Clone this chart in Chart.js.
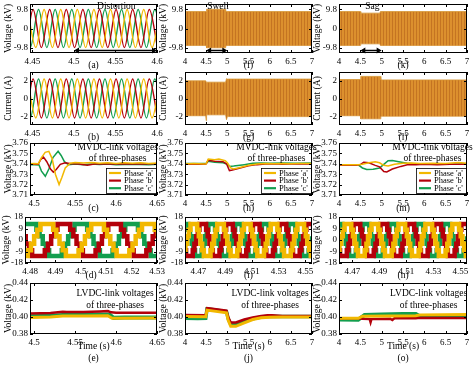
<!DOCTYPE html>
<html>
<head>
<meta charset="utf-8">
<script src="https://cdn.jsdelivr.net/npm/chart.js"></script>
<style>
  body { margin: 0; width: 474px; height: 366px; background: #fff; position: relative; overflow: hidden; }
  canvas { position: absolute; }
</style>
</head>
<body>
<script>
// ---------- data ----------
// (a),(b) times of successive crest / trough of each phase (first one is a crest)
const sineTimesA = [4.444, 4.454, 4.464, 4.474, 4.484, 4.494, 4.504, 4.514, 4.524, 4.534, 4.544, 4.554, 4.564, 4.574, 4.584, 4.594, 4.604];
const sineTimesB = [4.4307, 4.4407, 4.4507, 4.4607, 4.4707, 4.4807, 4.4907, 4.5007, 4.5107, 4.5207, 4.5307, 4.5407, 4.5507, 4.5607, 4.5707, 4.5807, 4.5907, 4.6007];
const sineTimesC = [4.4373, 4.4473, 4.4573, 4.4673, 4.4773, 4.4873, 4.4973, 4.5073, 4.5173, 4.5273, 4.5373, 4.5473, 4.5573, 4.5673, 4.5773, 4.5873, 4.5973, 4.6073];
const voltPeak = 9.8;
const currPeak = 2.2;

// (f),(g),(k),(l) envelopes of the dense waveforms
const swellT = [4, 4.5, 4.51, 4.96, 4.97, 7];
const swellUp = [8.7, 8.7, 9.9, 9.9, 8.7, 8.7];
const swellLo = [-8.7, -8.7, -9.9, -9.9, -8.7, -8.7];
const swellCurT = [4, 4.49, 4.5, 4.51, 4.52, 4.96, 4.98, 5.0, 5.02, 7];
const swellCurUp = [2.0, 2.0, 1.85, 1.85, 1.85, 1.85, 2.25, 2.2, 2.2, 2.2];
const swellCurLo = [-1.95, -1.95, -2.5, -1.85, -1.85, -1.85, -2.4, -2.05, -2.05, -2.05];
const sagT = [4, 4.5, 4.51, 4.96, 4.97, 7];
const sagUp = [8.7, 8.7, 7.9, 7.9, 8.7, 8.7];
const sagLo = [-8.7, -8.7, -7.9, -7.9, -8.7, -8.7];
const sagCurT = [4, 4.5, 4.51, 4.97, 4.98, 7];
const sagCurUp = [2.15, 2.15, 2.5, 2.5, 2.1, 2.1];
const sagCurLo = [-1.95, -1.95, -2.3, -2.3, -2.0, -2.0];

// (c) MVDC-link voltages, distortion case [time, kV]
const mvA1 = [[4.495,3.7400],[4.500,3.7402],[4.505,3.7400],[4.509,3.7460],[4.5135,3.7510],[4.518,3.7520],[4.522,3.7450],[4.526,3.7300],[4.5305,3.7200],[4.534,3.7270],[4.538,3.7360],[4.544,3.7405],[4.55,3.7412],[4.56,3.7408],[4.57,3.7412],[4.58,3.7405],[4.59,3.7410],[4.60,3.7404],[4.61,3.7410],[4.62,3.7406],[4.63,3.7410],[4.64,3.7404],[4.65,3.7408]];
const mvB1 = [[4.495,3.7395],[4.505,3.7395],[4.508,3.7440],[4.5115,3.7465],[4.5155,3.7420],[4.520,3.7350],[4.5235,3.7320],[4.527,3.7345],[4.532,3.7395],[4.538,3.7410],[4.545,3.7400],[4.555,3.7398],[4.565,3.7385],[4.575,3.7400],[4.59,3.7398],[4.61,3.7400],[4.63,3.7398],[4.65,3.7400]];
const mvC1 = [[4.495,3.7390],[4.50,3.7392],[4.506,3.7388],[4.509,3.7330],[4.5137,3.7280],[4.518,3.7350],[4.523,3.7460],[4.5293,3.7520],[4.533,3.7480],[4.537,3.7420],[4.542,3.7392],[4.55,3.7398],[4.56,3.7392],[4.57,3.7398],[4.58,3.7393],[4.59,3.7398],[4.60,3.7392],[4.62,3.7396],[4.64,3.7392],[4.65,3.7395]];
// (h) swell case
const mvA2 = [[4,3.7398],[4.2,3.7402],[4.45,3.7398],[4.5,3.7400],[4.55,3.7445],[4.7,3.7440],[4.8,3.7445],[4.95,3.7430],[5.0,3.7410],[5.08,3.7360],[5.15,3.7350],[5.3,3.7365],[5.5,3.7385],[5.7,3.7398],[5.9,3.7402],[6.1,3.7400],[6.3,3.7404],[6.5,3.7400],[6.7,3.7404],[7,3.7402]];
const mvB2 = [[4,3.7395],[4.45,3.7395],[4.5,3.7400],[4.55,3.7435],[4.7,3.7425],[4.9,3.7420],[4.98,3.7400],[5.05,3.7335],[5.12,3.7340],[5.3,3.7360],[5.5,3.7380],[5.7,3.7392],[5.9,3.7398],[6.1,3.7400],[6.3,3.7395],[6.6,3.7400],[7,3.7398]];
const mvC2 = [[4,3.7402],[4.45,3.7402],[4.5,3.7405],[4.55,3.7425],[4.7,3.7415],[4.9,3.7410],[5.0,3.7395],[5.05,3.7375],[5.15,3.7378],[5.4,3.7392],[5.6,3.7405],[5.8,3.7408],[6.0,3.7405],[6.3,3.7408],[6.6,3.7405],[7,3.7408]];
// (m) sag case
const mvA3 = [[4,3.7390],[4.45,3.7392],[4.55,3.7395],[4.7,3.7410],[4.85,3.7420],[4.95,3.7410],[5.05,3.7385],[5.15,3.7380],[5.3,3.7395],[5.5,3.7405],[5.7,3.7408],[5.9,3.7402],[6.2,3.7405],[6.5,3.7402],[6.8,3.7412],[7,3.7405]];
const mvB3 = [[4,3.7385],[4.4,3.7385],[4.5,3.7392],[4.58,3.7415],[4.7,3.7410],[4.85,3.7385],[4.95,3.7370],[5.05,3.7325],[5.12,3.7322],[5.25,3.7350],[5.45,3.7375],[5.6,3.7390],[5.8,3.7392],[6.0,3.7395],[6.3,3.7392],[6.6,3.7395],[7,3.7395]];
const mvC3 = [[4,3.7392],[4.45,3.7390],[4.55,3.7360],[4.65,3.7345],[4.8,3.7348],[4.95,3.7360],[5.05,3.7395],[5.15,3.7430],[5.25,3.7432],[5.4,3.7420],[5.6,3.7405],[5.8,3.7398],[6.0,3.7395],[6.3,3.7398],[6.6,3.7395],[7,3.7398]];

// (d),(i),(n) one staircase cycle: offsets (s) and levels (kV); cycle start times per phase
const stairT = [0, 0.005, 0.00625, 0.0075, 0.00875, 0.010, 0.015, 0.01625, 0.0175, 0.01875];
const stairV = [12.5, 8, 3, -3, -8, -12.5, -8, -3, 3, 8];
const stairPeriod = 0.02;
const stairStartA = [4.4441, 4.4641, 4.4841, 4.5041, 4.5241, 4.5441];
const stairStartB = [4.4308, 4.4508, 4.4708, 4.4908, 4.5108, 4.5308, 4.5508];
const stairStartC = [4.4375, 4.4575, 4.4775, 4.4975, 4.5175, 4.5375];

// (e),(j),(o) LVDC-link voltages [time, kV]
const lvA1 = [[4.495,0.3995],[4.52,0.4000],[4.535,0.4012],[4.56,0.4012],[4.59,0.4015],[4.595,0.3985],[4.65,0.3988]];
const lvB1 = [[4.495,0.4040],[4.52,0.4048],[4.535,0.4062],[4.54,0.4058],[4.56,0.4058],[4.58,0.4065],[4.59,0.4070],[4.594,0.4055],[4.60,0.4050],[4.65,0.4050]];
const lvC1 = [[4.495,0.4010],[4.52,0.4015],[4.535,0.4025],[4.56,0.4025],[4.58,0.4030],[4.592,0.4030],[4.597,0.3990],[4.61,0.3995],[4.65,0.3995]];
const lvA2 = [[4,0.4005],[4.49,0.4003],[4.52,0.4080],[4.6,0.4075],[4.98,0.4050],[5.02,0.3960],[5.08,0.3890],[5.2,0.3890],[5.4,0.3930],[5.6,0.3970],[5.8,0.3990],[6.0,0.3998],[6.3,0.4000],[7,0.4000]];
const lvB2 = [[4,0.4025],[4.49,0.4022],[4.52,0.4105],[4.6,0.4100],[4.98,0.4075],[5.02,0.4000],[5.08,0.3935],[5.2,0.3935],[5.4,0.3970],[5.6,0.3995],[5.8,0.4012],[5.95,0.4022],[6.05,0.4020],[6.3,0.4012],[7,0.4012]];
const lvC2 = [[4,0.3985],[4.3,0.3983],[4.49,0.3985],[4.52,0.4095],[4.6,0.4090],[4.98,0.4065],[5.02,0.3980],[5.08,0.3915],[5.2,0.3915],[5.4,0.3950],[5.6,0.3980],[5.8,0.4000],[6.0,0.4008],[6.3,0.4005],[7,0.4005]];
const lvA3 = [[4,0.3985],[4.45,0.3985],[4.55,0.4010],[5.8,0.4015],[5.9,0.4025],[7,0.4028]];
const lvB3 = [[4,0.3985],[4.45,0.3985],[4.55,0.3980],[4.72,0.3975],[4.74,0.3940],[4.76,0.3975],[5.2,0.3980],[5.25,0.3965],[5.3,0.3985],[5.8,0.3985],[5.9,0.3990],[7,0.3988]];
const lvC3 = [[4,0.3970],[4.45,0.3968],[4.6,0.4025],[5.0,0.4030],[5.5,0.4035],[5.8,0.4035],[5.9,0.4005],[7,0.4005]];

// tick values
const xTicksSine = [4.45, 4.5, 4.55, 4.6];
const xTicksZoom = [4.5, 4.55, 4.6, 4.65];
const xTicksStairD = [4.48, 4.49, 4.5, 4.51, 4.52, 4.53];
const xTicksStair = [4.47, 4.49, 4.51, 4.53, 4.55];
const xTicksLong = [4, 4.5, 5, 5.5, 6, 6.5, 7];
const yTicksVolt = [-9.8, 0, 9.8];
const yTicksCur = [-2, 0, 2];
const yTicksMV = [3.71, 3.72, 3.73, 3.74, 3.75, 3.76];
const yTicksStair = [-18, -9, 0, 9, 18];
const yTicksLV = [0.38, 0.40, 0.42, 0.44];

// ---------- helpers ----------
const YEL = 'rgb(242,184,0)', RED = 'rgb(180,0,10)', GRN = 'rgb(18,158,78)';
const SERIF = '"Liberation Serif", "Times New Roman", serif';
const TICKF = { family: SERIF, size: 9 };
const TITLEF = { family: SERIF, size: 9.5 };

const toXY = arr => arr.map(p => ({ x: p[0], y: p[1] }));
const extrema = (times, peak) => times.map((t, i) => ({ x: t, y: i % 2 ? -peak : peak }));
const band = (ts, ys) => ts.map((t, i) => ({ x: t, y: ys[i] }));
function stairs(starts) {
  const out = [];
  starts.forEach(s => stairT.forEach((dt, k) => out.push({ x: s + dt, y: stairV[k] })));
  out.push({ x: starts[starts.length - 1] + stairPeriod, y: stairV[0] });
  return out;
}

// striped orange fill for the dense waveforms
const pc = document.createElement('canvas');
pc.width = 3; pc.height = 4;
const pctx = pc.getContext('2d');
pctx.fillStyle = 'rgb(220,144,46)'; pctx.fillRect(0, 0, 3, 4);
pctx.fillStyle = 'rgb(196,116,34)'; pctx.fillRect(2, 0, 1, 4);
const stripes = pctx.createPattern(pc, 'repeat');

const line = (label, data, color, width, extra) =>
  Object.assign({ label, data, borderColor: color, backgroundColor: color, borderWidth: width,
    pointRadius: 0, fill: false, clip: 0 }, extra || {});
const sineSet = peak => [
  line("Phase 'a'", extrema(sineTimesA, peak), YEL, 1.4, { cubicInterpolationMode: 'monotone' }),
  line("Phase 'b'", extrema(sineTimesB, peak), RED, 1.4, { cubicInterpolationMode: 'monotone' }),
  line("Phase 'c'", extrema(sineTimesC, peak), GRN, 1.4, { cubicInterpolationMode: 'monotone' })
];
const bandSet = (ts, up, lo) => [
  { data: band(ts, up), fill: '+1', backgroundColor: stripes, borderColor: 'rgb(214,150,50)', borderWidth: 0.8, pointRadius: 0, clip: 0 },
  { data: band(ts, lo), fill: false, borderColor: 'rgb(214,150,50)', borderWidth: 0.8, pointRadius: 0, clip: 0 }
];
const tripleSet = (a, b, c, w) => [
  line("Phase 'a'", toXY(a), YEL, w[0]),
  line("Phase 'b'", toXY(b), RED, w[1]),
  line("Phase 'c'", toXY(c), GRN, w[2])
];
const stairSet = () => [
  line("Phase 'a'", stairs(stairStartA), YEL, 4.5, { stepped: true }),
  line("Phase 'b'", stairs(stairStartB), RED, 4.5, { stepped: true }),
  line("Phase 'c'", stairs(stairStartC), GRN, 4.5, { stepped: true })
];

// frame, inner ticks, notes, arrows and legend
const deco = {
  id: 'deco',
  afterDatasetsDraw(chart, args, o) {
    const { ctx, chartArea: a, scales: { x, y } } = chart;
    ctx.save();
    ctx.strokeStyle = '#000';
    ctx.lineWidth = 1;
    ctx.strokeRect(a.left + 0.5, a.top + 0.5, a.width - 1, a.height - 1);
    ctx.beginPath();
    x.ticks.forEach(t => {
      const p = Math.round(x.getPixelForValue(t.value)) + 0.5;
      ctx.moveTo(p, a.bottom); ctx.lineTo(p, a.bottom - 3);
      ctx.moveTo(p, a.top); ctx.lineTo(p, a.top + 3);
    });
    y.ticks.forEach(t => {
      const p = Math.round(y.getPixelForValue(t.value)) + 0.5;
      ctx.moveTo(a.left, p); ctx.lineTo(a.left + 3, p);
      ctx.moveTo(a.right, p); ctx.lineTo(a.right - 3, p);
    });
    ctx.stroke();

    ctx.fillStyle = '#000';
    ctx.font = '9.5px ' + SERIF;
    ctx.textAlign = 'center';
    ctx.textBaseline = 'middle';
    (o.texts || []).forEach(t => ctx.fillText(t[0], a.left + t[1] * a.width, a.top + t[2] * a.height));

    if (o.arrow) {
      const yy = Math.round(y.getPixelForValue(o.arrow.y)) + 0.5;
      const x1 = x.getPixelForValue(o.arrow.x1), x2 = x.getPixelForValue(o.arrow.x2);
      ctx.lineWidth = 1.5;
      ctx.beginPath(); ctx.moveTo(x1 + 3, yy); ctx.lineTo(x2 - 3, yy); ctx.stroke();
      ctx.beginPath();
      ctx.moveTo(x1, yy); ctx.lineTo(x1 + 5, yy - 3); ctx.lineTo(x1 + 5, yy + 3); ctx.closePath();
      ctx.moveTo(x2, yy); ctx.lineTo(x2 - 5, yy - 3); ctx.lineTo(x2 - 5, yy + 3); ctx.closePath();
      ctx.fill();
    }

    if (o.legend) {
      const w = 50, h = 25, bx = a.right - w - 1, by = a.bottom - h - 2;
      ctx.fillStyle = '#fff';
      ctx.fillRect(bx, by, w, h);
      ctx.lineWidth = 0.8;
      ctx.strokeRect(bx + 0.5, by + 0.5, w, h);
      ctx.font = '8.5px ' + SERIF;
      ctx.textAlign = 'left';
      chart.data.datasets.forEach((d, i) => {
        const ly = by + 5 + i * 7.6;
        ctx.strokeStyle = d.borderColor;
        ctx.lineWidth = 2.2;
        ctx.beginPath(); ctx.moveTo(bx + 3, ly); ctx.lineTo(bx + 15, ly); ctx.stroke();
        ctx.fillStyle = '#000';
        ctx.fillText(d.label, bx + 18, ly + 0.5);
      });
    }
    ctx.restore();
  }
};
Chart.register(deco);

// plot-area columns and rows [left,right] / [top,bottom,bottomMargin]
const COL1 = [30, 157], COL1S = [25, 157], COL2 = [185, 312], COL3 = [339, 467];
const ROW1 = [4, 53, 18], ROW2 = [72, 125, 18], ROW3 = [143, 195, 19], ROW4 = [217, 263, 18], ROW5 = [283, 334, 30];
const fmt = v => String(+v.toFixed(3));
const fmt2 = v => v.toFixed(2);

function panel(col, row, o) {
  const L = col === COL1S ? 24 : 27, T = 8, RM = 12, B = row[2];
  const w = col[1] - col[0] + L + RM, h = row[1] - row[0] + T + B;
  const cv = document.createElement('canvas');
  cv.width = w; cv.height = h;
  cv.style.left = (col[0] - L) + 'px';
  cv.style.top = (row[0] - T) + 'px';
  cv.style.width = w + 'px';
  cv.style.height = h + 'px';
  document.body.appendChild(cv);
  new Chart(cv.getContext('2d'), {
    type: 'line',
    data: { datasets: o.datasets },
    options: {
      responsive: false,
      animation: false,
      events: [],
      layout: { padding: { left: 0, top: T, right: RM, bottom: 0 } },
      plugins: { legend: { display: false }, tooltip: { enabled: false }, deco: o.deco || {} },
      scales: {
        x: {
          type: 'linear', min: o.xr[0], max: o.xr[1],
          grid: { display: false, drawTicks: false }, border: { display: false },
          afterFit: s => { s.height = B; },
          afterBuildTicks: s => { s.ticks = o.xt.map(v => ({ value: v })); },
          ticks: { color: '#000', font: TICKF, padding: 3, maxRotation: 0, autoSkip: false, callback: v => fmt(v) },
          title: { display: true, text: o.xTitle, color: '#000', font: TITLEF, padding: 0 }
        },
        y: {
          type: 'linear', min: o.yr[0], max: o.yr[1],
          grid: { display: false, drawTicks: false }, border: { display: false },
          afterFit: s => { s.width = L; },
          afterBuildTicks: s => { s.ticks = o.yt.map(v => ({ value: v })); },
          ticks: { color: '#000', font: TICKF, padding: 2, autoSkip: false, callback: o.yFmt || (v => fmt(v)) },
          title: { display: true, text: o.yTitle, color: '#000', font: TITLEF, padding: { top: 0, bottom: 0 } }
        }
      }
    }
  });
}

const MVNOTE = (fx) => [['MVDC-link voltages', fx, 0.09], ['of three-phases', fx, 0.29]];
const LVNOTE = (fx) => [['LVDC-link voltages', fx, 0.2], ['of three-phases', fx, 0.45]];

// row 1
panel(COL1, ROW1, { datasets: sineSet(voltPeak), xr: [4.447, 4.6], xt: xTicksSine, yr: [-12.6, 12.6], yt: yTicksVolt,
  yTitle: 'Voltage (kV)', xTitle: '(a)', deco: { texts: [['Distortion', 0.68, 0.05]], arrow: { x1: 4.5, x2: 4.6, y: -11.2 } } });
panel(COL2, ROW1, { datasets: bandSet(swellT, swellUp, swellLo), xr: [4, 7], xt: xTicksLong, yr: [-12.6, 12.6], yt: yTicksVolt,
  yTitle: 'Voltage (kV)', xTitle: '(f)', deco: { texts: [['Swell', 0.26, 0.06]], arrow: { x1: 4.5, x2: 5, y: -11.2 } } });
panel(COL3, ROW1, { datasets: bandSet(sagT, sagUp, sagLo), xr: [4, 7], xt: xTicksLong, yr: [-12.6, 12.6], yt: yTicksVolt,
  yTitle: 'Voltage (kV)', xTitle: '(k)', deco: { texts: [['Sag', 0.26, 0.06]], arrow: { x1: 4.5, x2: 5, y: -11.2 } } });
// row 2
panel(COL1, ROW2, { datasets: sineSet(currPeak), xr: [4.447, 4.6], xt: xTicksSine, yr: [-3, 3], yt: yTicksCur,
  yTitle: 'Current (A)', xTitle: '(b)' });
panel(COL2, ROW2, { datasets: bandSet(swellCurT, swellCurUp, swellCurLo), xr: [4, 7], xt: xTicksLong, yr: [-3, 3], yt: yTicksCur,
  yTitle: 'Current (A)', xTitle: '(g)' });
panel(COL3, ROW2, { datasets: bandSet(sagCurT, sagCurUp, sagCurLo), xr: [4, 7], xt: xTicksLong, yr: [-3, 3], yt: yTicksCur,
  yTitle: 'Current (A)', xTitle: '(l)' });
// row 3
panel(COL1, ROW3, { datasets: tripleSet(mvA1, mvB1, mvC1, [1.5, 1.5, 1.5]), xr: [4.495, 4.65], xt: xTicksZoom, yr: [3.71, 3.76], yt: yTicksMV,
  yTitle: 'Voltage (kV)', xTitle: '(c)', yFmt: fmt2, deco: { texts: MVNOTE(0.69), legend: true } });
panel(COL2, ROW3, { datasets: tripleSet(mvA2, mvB2, mvC2, [1.5, 1.5, 1.5]), xr: [4, 7], xt: xTicksLong, yr: [3.71, 3.76], yt: yTicksMV,
  yTitle: 'Voltage (kV)', xTitle: '(h)', yFmt: fmt2, deco: { texts: MVNOTE(0.72), legend: true } });
panel(COL3, ROW3, { datasets: tripleSet(mvA3, mvB3, mvC3, [1.5, 1.5, 1.5]), xr: [4, 7], xt: xTicksLong, yr: [3.71, 3.76], yt: yTicksMV,
  yTitle: 'Voltage (kV)', xTitle: '(m)', yFmt: fmt2, deco: { texts: MVNOTE(0.73), legend: true } });
// row 4
panel(COL1S, ROW4, { datasets: stairSet(), xr: [4.478, 4.53], xt: xTicksStairD, yr: [-18, 18], yt: yTicksStair,
  yTitle: 'Voltage (kV)', xTitle: '(d)' });
panel(COL2, ROW4, { datasets: stairSet(), xr: [4.46, 4.555], xt: xTicksStair, yr: [-18, 18], yt: yTicksStair,
  yTitle: 'Voltage (kV)', xTitle: '(i)' });
panel(COL3, ROW4, { datasets: stairSet(), xr: [4.46, 4.555], xt: xTicksStair, yr: [-18, 18], yt: yTicksStair,
  yTitle: 'Voltage (kV)', xTitle: '(n)' });
// row 5
panel(COL1, ROW5, { datasets: tripleSet(lvA1, lvB1, lvC1, [3, 2.5, 4]), xr: [4.495, 4.65], xt: xTicksZoom, yr: [0.38, 0.44], yt: yTicksLV,
  yTitle: 'Voltage (kV)', xTitle: ['Time (s)', '(e)'], yFmt: fmt2, deco: { texts: LVNOTE(0.67) } });
panel(COL2, ROW5, { datasets: tripleSet(lvA2, lvB2, lvC2, [3, 2.5, 3.5]), xr: [4, 7], xt: xTicksLong, yr: [0.38, 0.44], yt: yTicksLV,
  yTitle: 'Voltage (kV)', xTitle: ['Time (s)', '(j)'], yFmt: fmt2, deco: { texts: LVNOTE(0.67) } });
panel(COL3, ROW5, { datasets: tripleSet(lvA3, lvB3, lvC3, [3, 2.5, 4]), xr: [4, 7], xt: xTicksLong, yr: [0.38, 0.44], yt: yTicksLV,
  yTitle: 'Voltage (kV)', xTitle: ['Time (s)', '(o)'], yFmt: fmt2, deco: { texts: LVNOTE(0.70) } });
</script>
</body>
</html>
